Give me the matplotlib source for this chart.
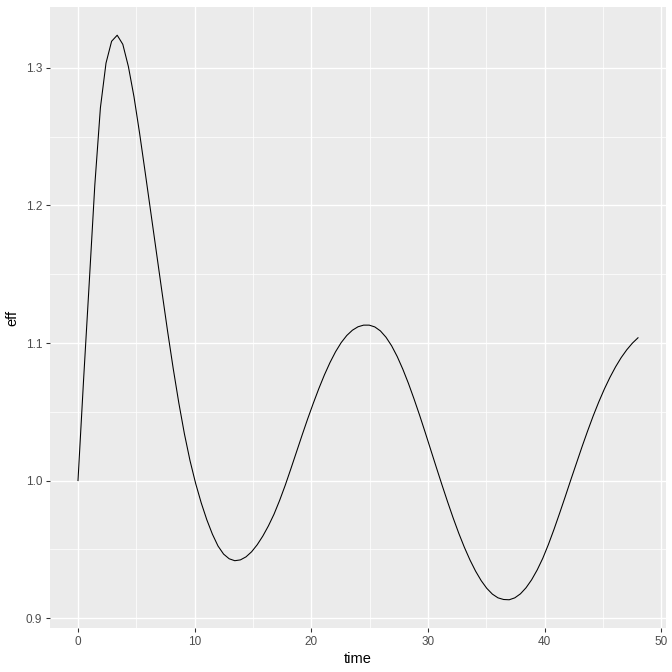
import matplotlib
matplotlib.use("Agg")
import matplotlib.pyplot as plt
from matplotlib.ticker import MultipleLocator

# time steps (0 to 48 every 0.48)
time = [0.00, 0.48, 0.96, 1.44, 1.92, 2.40, 2.88, 3.36, 3.84, 4.32,
        4.80, 5.28, 5.76, 6.24, 6.72, 7.20, 7.68, 8.16, 8.64, 9.12,
        9.60, 10.08, 10.56, 11.04, 11.52, 12.00, 12.48, 12.96, 13.44, 13.92,
        14.40, 14.88, 15.36, 15.84, 16.32, 16.80, 17.28, 17.76, 18.24, 18.72,
        19.20, 19.68, 20.16, 20.64, 21.12, 21.60, 22.08, 22.56, 23.04, 23.52,
        24.00, 24.48, 24.96, 25.44, 25.92, 26.40, 26.88, 27.36, 27.84, 28.32,
        28.80, 29.28, 29.76, 30.24, 30.72, 31.20, 31.68, 32.16, 32.64, 33.12,
        33.60, 34.08, 34.56, 35.04, 35.52, 36.00, 36.48, 36.96, 37.44, 37.92,
        38.40, 38.88, 39.36, 39.84, 40.32, 40.80, 41.28, 41.76, 42.24, 42.72,
        43.20, 43.68, 44.16, 44.64, 45.12, 45.60, 46.08, 46.56, 47.04, 47.52,
        48.00]

# eff values
eff = [1.0000, 1.0735, 1.1434, 1.2147, 1.2710, 1.3035, 1.3194, 1.3238, 1.3172, 1.3010,
       1.2790, 1.2525, 1.2240, 1.1950, 1.1660, 1.1370, 1.1085, 1.0815, 1.0565, 1.0340,
       1.0145, 0.9980, 0.9838, 0.9715, 0.9610, 0.9524, 0.9465, 0.9431, 0.9417, 0.9423,
       0.9445, 0.9482, 0.9533, 0.9596, 0.9670, 0.9755, 0.9855, 0.9965, 1.0084, 1.0206,
       1.0328, 1.0447, 1.0560, 1.0668, 1.0768, 1.0858, 1.0937, 1.1003, 1.1055, 1.1093,
       1.1118, 1.1130, 1.1130, 1.1117, 1.1088, 1.1042, 1.0980, 1.0902, 1.0810, 1.0707,
       1.0594, 1.0475, 1.0350, 1.0222, 1.0094, 0.9968, 0.9845, 0.9727, 0.9616, 0.9514,
       0.9422, 0.9341, 0.9272, 0.9216, 0.9174, 0.9147, 0.9135, 0.9133, 0.9147, 0.9176,
       0.9220, 0.9278, 0.9350, 0.9435, 0.9535, 0.9645, 0.9762, 0.9882, 1.0005, 1.0125,
       1.0245, 1.0360, 1.0470, 1.0572, 1.0666, 1.0751, 1.0827, 1.0894, 1.0951, 1.0999,
       1.1038]

plt.rcParams["font.family"] = ["Liberation Sans", "DejaVu Sans"]

fig = plt.figure(figsize=(7, 7), dpi=96)
ax = fig.add_axes([50 / 672, 44 / 672, 616 / 672, 621 / 672])

# ggplot grey look
ax.set_facecolor("#EBEBEB")
for side in ax.spines.values():
    side.set_visible(False)
ax.xaxis.set_major_locator(MultipleLocator(10))
ax.xaxis.set_minor_locator(MultipleLocator(5))
ax.yaxis.set_major_locator(MultipleLocator(0.1))
ax.yaxis.set_minor_locator(MultipleLocator(0.05))
ax.grid(which="major", color="white", linewidth=1.05)
ax.grid(which="minor", color="white", linewidth=0.55)
ax.set_axisbelow(True)
ax.tick_params(which="major", length=3.3, width=0.8, color="#333333",
               labelsize=8.8, labelcolor="#4D4D4D", pad=2.5)
ax.tick_params(which="minor", length=0)

ax.plot(time, eff, color="black", linewidth=0.8)
ax.margins(0.05)

ax.set_xlabel("time", fontsize=11, color="black", labelpad=3)
ax.set_ylabel("eff", fontsize=11, color="black", labelpad=5)

fig.savefig("out.png", dpi=96)
